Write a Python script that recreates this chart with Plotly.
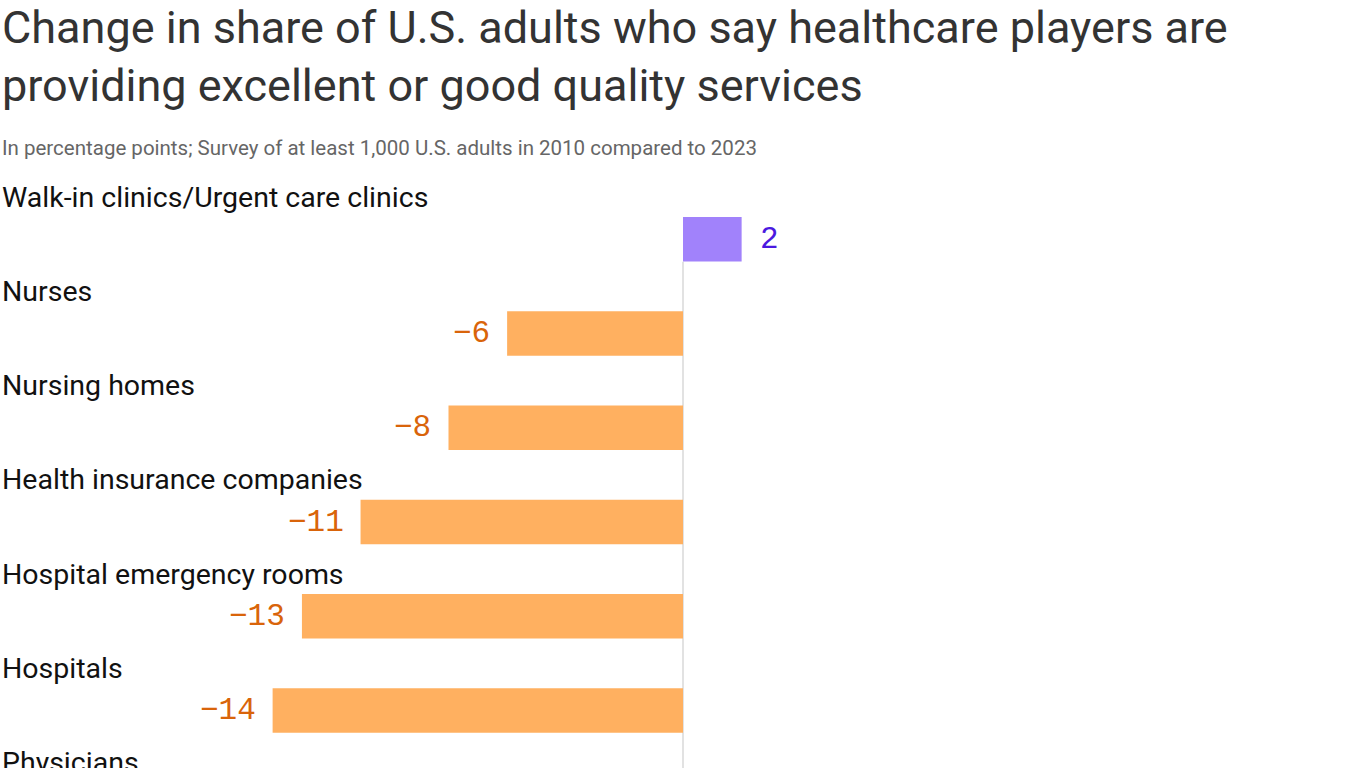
import plotly.graph_objects as go

categories = ["Walk-in clinics/Urgent care clinics", "Nurses", "Nursing homes",
              "Health insurance companies", "Hospital emergency rooms", "Hospitals",
              "Physicians"]
change = [2, -6, -8, -11, -13, -14, -16]

title_lines = ["Change in share of U.S. adults who say healthcare players are",
               "providing excellent or good quality services"]
subtitle = "In percentage points; Survey of at least 1,000 U.S. adults in 2010 compared to 2023"

pos_bar, neg_bar = "#a182fb", "#ffb060"
pos_txt, neg_txt = "#4b19e0", "#d9640a"

W, H, TOP = 1366, 768, 145
rows = list(range(len(categories)))
bar_colors = [pos_bar if v > 0 else neg_bar for v in change]

fig = go.Figure()
fig.add_trace(go.Bar(x=change, y=rows, orientation="h", width=0.47,
                     marker=dict(color=bar_colors, line_width=0),
                     hoverinfo="skip"))

# zero line, visible only in the gaps between bars
fig.add_shape(type="line", x0=0, x1=0, y0=0.24, y1=len(categories),
              xref="x", yref="y", layer="below",
              line=dict(color="#e2e2e2", width=2))

def py(pix):
    # pixel row from top of figure -> paper y
    return (H - pix) / (H - TOP)

ann = []
for i, (c, v) in enumerate(zip(categories, change)):
    ann.append(dict(x=0, xref="paper", y=i - 0.446, yref="y", text=c,
                    showarrow=False, xanchor="left", yanchor="middle",
                    font=dict(family="Roboto", size=28.5, color="#111111")))
    ann.append(dict(x=v, y=i, xref="x", yref="y", text=f"{v}".replace("-", "\u2212"),
                    showarrow=False, xanchor="left" if v > 0 else "right",
                    xshift=16 if v > 0 else -15, yanchor="middle",
                    font=dict(family="Liberation Mono", size=31,
                              color=pos_txt if v > 0 else neg_txt)))

for line, ypix in zip(title_lines, [28, 86]):
    ann.append(dict(x=0, xref="paper", y=py(ypix), yref="paper", yanchor="middle",
                    text=line, showarrow=False, xanchor="left",
                    font=dict(family="Roboto", size=45, color="#333333")))
ann.append(dict(x=0, xref="paper", y=py(148), yref="paper", yanchor="middle",
                text=subtitle, showarrow=False, xanchor="left",
                font=dict(family="Roboto", size=20.5, color="#666666")))

fig.update_layout(
    width=W, height=H,
    margin=dict(l=0, r=0, t=TOP, b=0),
    paper_bgcolor="white", plot_bgcolor="white",
    showlegend=False,
    xaxis=dict(range=[-23.3, 23.3], visible=False, fixedrange=True),
    yaxis=dict(range=[5.61, -1.0], visible=False, fixedrange=True),
    annotations=ann,
)

fig.write_html("out.html", config={"displayModeBar": False},
               post_script="document.body.style.margin='0';")
